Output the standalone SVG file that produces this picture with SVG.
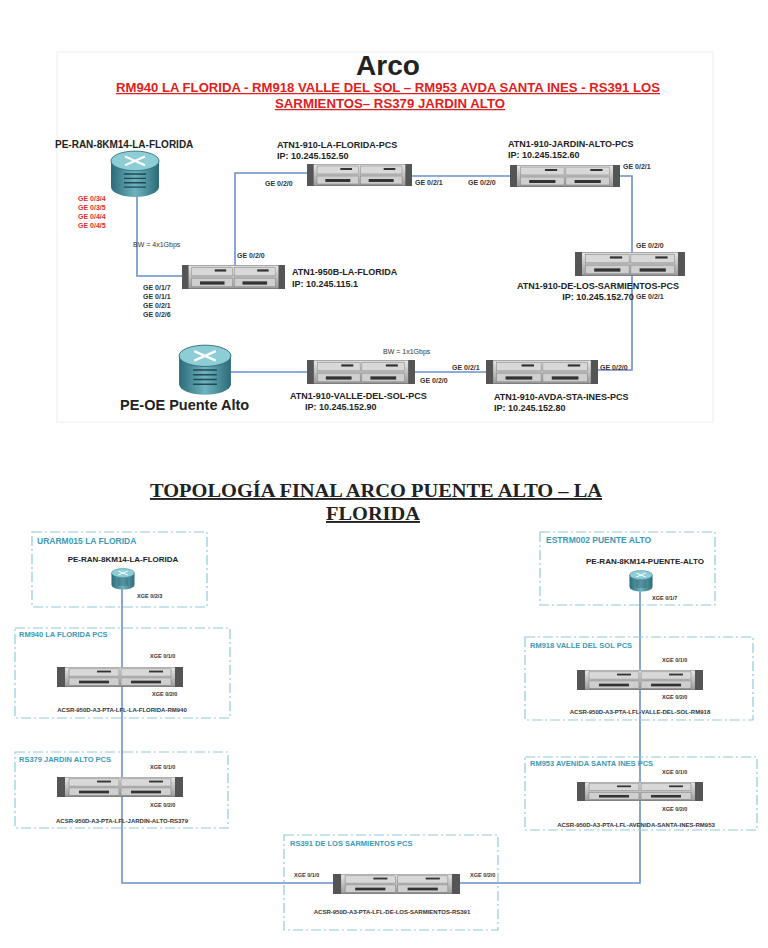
<svg xmlns="http://www.w3.org/2000/svg" width="768" height="948" viewBox="0 0 768 948">
<style>
text{font-family:"Liberation Sans",Arial,sans-serif;fill:#222}
.b{font-weight:bold}
.s{font-size:7px;font-weight:bold;fill:#333}
.n{font-size:9px;font-weight:bold}
.r{font-size:7px;font-weight:bold;fill:#e03030}
.t{font-size:7.5px;font-weight:bold;fill:#3a9ab8}
.box{fill:none;stroke:#8fcadb;stroke-width:1.2;stroke-dasharray:10 3 2 3}
.ln{fill:none;stroke:#6a8fd0;stroke-width:1.6}
</style>
<defs>
<linearGradient id="cg" x1="0" y1="0" x2="0" y2="1"><stop offset="0" stop-color="#e8e8e8"/><stop offset="1" stop-color="#9a9a9a"/></linearGradient>
<linearGradient id="rg" x1="0" y1="0" x2="1" y2="0"><stop offset="0" stop-color="#2c6a78"/><stop offset=".5" stop-color="#6fb3bf"/><stop offset="1" stop-color="#2c6a78"/></linearGradient>
<symbol id="ch" viewBox="0 0 126 22" preserveAspectRatio="none">
<rect x="0" y="0" width="126" height="22" fill="url(#cg)" stroke="#555" stroke-width=".8"/>
<rect x="0" y="0" width="8" height="22" fill="#555"/><rect x="118" y="0" width="8" height="22" fill="#555"/>
<rect x="12" y="2" width="50" height="8" fill="#d8d8d8" stroke="#777" stroke-width=".5"/>
<rect x="64" y="2" width="50" height="8" fill="#d8d8d8" stroke="#777" stroke-width=".5"/>
<rect x="12" y="12" width="50" height="8" fill="#cfcfcf" stroke="#777" stroke-width=".5"/>
<rect x="64" y="12" width="50" height="8" fill="#cfcfcf" stroke="#777" stroke-width=".5"/>
<rect x="22" y="15" width="30" height="3" fill="#333"/><rect x="74" y="15" width="30" height="3" fill="#333"/>
<rect x="40" y="4" width="14" height="2" fill="#333"/><rect x="92" y="4" width="14" height="2" fill="#333"/>
</symbol>
<symbol id="rt" viewBox="0 0 50 44" preserveAspectRatio="none">
<path d="M1 10 V34 A24 9 0 0 0 49 34 V10 Z" fill="url(#rg)"/>
<ellipse cx="25" cy="10" rx="24" ry="9" fill="#8ccdd6" stroke="#2c6a78" stroke-width=".8"/>
<path d="M15 6 L35 14 M35 6 L15 14" stroke="#fff" stroke-width="2"/>
<path d="M14 22 H36 M14 26 H36 M14 30 H36 M14 34 H36" stroke="#1f4a55" stroke-width="1.2"/>
</symbol>
</defs>
<rect width="768" height="948" fill="#fff"/>
<rect x="57" y="52" width="656" height="370" fill="#fff" stroke="#eee"/>
<text x="388" y="75" text-anchor="middle" class="b" style="font-size:28px">Arco</text>
<text x="388" y="92" text-anchor="middle" class="b" textLength="544" lengthAdjust="spacingAndGlyphs" style="font-size:12.5px;fill:#e02020;text-decoration:underline">RM940 LA FLORIDA - RM918 VALLE DEL SOL – RM953 AVDA SANTA INES - RS391 LOS</text>
<text x="390" y="108" text-anchor="middle" class="b" textLength="230" lengthAdjust="spacingAndGlyphs" style="font-size:12.5px;fill:#e02020;text-decoration:underline">SARMIENTOS– RS379 JARDIN ALTO</text>

<g id="connectors">
<path class="ln" d="M137 193 V276 H182"/>
<path class="ln" d="M235 276 V173 H307"/>
<path class="ln" d="M412 176 H510"/>
<path class="ln" d="M620 176 H632 V370 H598"/>
<path class="ln" d="M486 372 H415"/>
<path class="ln" d="M228 372 H307"/>
<path class="ln" d="M122 588 V883 H640 V590"/>
</g>

<g id="pe-ran-florida"><use href="#rt" x="110" y="150" width="50" height="48"/><text x="55" y="148" class="b" style="font-size:10px">PE-RAN-8KM14-LA-FLORIDA</text>
<text x="78" y="201" class="r">GE 0/3/4</text><text x="78" y="210" class="r">GE 0/3/5</text><text x="78" y="219" class="r">GE 0/4/4</text><text x="78" y="228" class="r">GE 0/4/5</text>
<text x="133" y="247" class="s" style="font-weight:normal">BW = 4x1Gbps</text></g>

<g id="atn950b"><use href="#ch" x="182" y="265" width="103" height="24"/>
<text x="292" y="275" class="b" style="font-size:9px">ATN1-950B-LA-FLORIDA</text><text x="292" y="287" class="b" style="font-size:9px">IP: 10.245.115.1</text>
<text x="237" y="258" class="s">GE 0/2/0</text>
<text x="143" y="290" class="s">GE 0/1/7</text><text x="143" y="299" class="s">GE 0/1/1</text><text x="143" y="308" class="s">GE 0/2/1</text><text x="143" y="317" class="s">GE 0/2/6</text></g>

<g id="atn-florida-pcs"><use href="#ch" x="307" y="164" width="105" height="22"/>
<text x="277" y="148" class="b" style="font-size:9px">ATN1-910-LA-FLORIDA-PCS</text><text x="277" y="159" class="b" style="font-size:9px">IP: 10.245.152.50</text>
<text x="265" y="186" class="s">GE 0/2/0</text><text x="415" y="185" class="s">GE 0/2/1</text></g>

<g id="atn-jardin"><use href="#ch" x="510" y="165" width="110" height="22"/>
<text x="508" y="147" class="b" style="font-size:9px">ATN1-910-JARDIN-ALTO-PCS</text><text x="508" y="158" class="b" style="font-size:9px">IP: 10.245.152.60</text>
<text x="468" y="185" class="s">GE 0/2/0</text><text x="623" y="169" class="s">GE 0/2/1</text></g>

<g id="atn-sarmientos"><use href="#ch" x="575" y="252" width="110" height="24"/>
<text x="598" y="289" text-anchor="middle" class="b" style="font-size:9px">ATN1-910-DE-LOS-SARMIENTOS-PCS</text><text x="598" y="300" text-anchor="middle" class="b" style="font-size:9px">IP: 10.245.152.70</text>
<text x="636" y="248" class="s">GE 0/2/0</text><text x="636" y="299" class="s">GE 0/2/1</text></g>

<g id="atn-avda"><use href="#ch" x="486" y="360" width="112" height="24"/>
<text x="494" y="400" class="b" style="font-size:9px">ATN1-910-AVDA-STA-INES-PCS</text><text x="494" y="411" class="b" style="font-size:9px">IP: 10.245.152.80</text>
<text x="452" y="370" class="s">GE 0/2/1</text><text x="600" y="370" class="s">GE 0/2/0</text></g>

<g id="atn-valle"><use href="#ch" x="307" y="360" width="108" height="24"/>
<text x="290" y="399" class="b" style="font-size:9px">ATN1-910-VALLE-DEL-SOL-PCS</text><text x="305" y="410" class="b" style="font-size:9px">IP: 10.245.152.90</text>
<text x="383" y="354" class="s" style="font-weight:normal">BW = 1x1Gbps</text><text x="420" y="383" class="s">GE 0/2/0</text></g>

<g id="pe-oe"><use href="#rt" x="178" y="344" width="54" height="52"/>
<text x="120" y="410" class="b" style="font-size:14.5px">PE-OE Puente Alto</text></g>

<text x="376" y="497" text-anchor="middle" class="b" textLength="452" lengthAdjust="spacingAndGlyphs" style="font-family:'Liberation Serif',serif;font-size:19px;text-decoration:underline">TOPOLOGÍA FINAL ARCO PUENTE ALTO – LA</text>
<text x="373" y="520" text-anchor="middle" class="b" textLength="94" lengthAdjust="spacingAndGlyphs" style="font-family:'Liberation Serif',serif;font-size:19px;text-decoration:underline">FLORIDA</text>

<g id="urarm015"><rect class="box" x="32" y="532" width="175" height="75"/>
<text x="37" y="544" class="t" style="font-size:8.5px">URARM015 LA FLORIDA</text>
<text x="123" y="562" text-anchor="middle" class="b" style="font-size:8px">PE-RAN-8KM14-LA-FLORIDA</text>
<use href="#rt" x="111" y="568" width="24" height="22"/><text x="137" y="598" class="s" style="font-size:5.5px">XGE 0/2/3</text></g>

<g id="rm940"><rect class="box" x="15" y="628" width="215" height="90"/>
<text x="19" y="637" class="t">RM940 LA FLORIDA PCS</text>
<use href="#ch" x="57" y="667" width="126" height="20"/>
<text x="150" y="658" class="s" style="font-size:5.5px">XGE 0/1/0</text><text x="152" y="696" class="s" style="font-size:5.5px">XGE 0/2/0</text>
<text x="122" y="712" text-anchor="middle" class="s" style="font-size:6px">ACSR-950D-A3-PTA-LFL-LA-FLORIDA-RM940</text></g>

<g id="rs379"><rect class="box" x="15" y="752" width="213" height="76"/>
<text x="19" y="762" class="t">RS379 JARDIN ALTO PCS</text>
<use href="#ch" x="57" y="777" width="126" height="20"/>
<text x="150" y="769" class="s" style="font-size:5.5px">XGE 0/1/0</text><text x="150" y="807" class="s" style="font-size:5.5px">XGE 0/2/0</text>
<text x="122" y="823" text-anchor="middle" class="s" style="font-size:6px">ACSR-950D-A3-PTA-LFL-JARDIN-ALTO-RS379</text></g>

<g id="estrm002"><rect class="box" x="540" y="532" width="175" height="73"/>
<text x="546" y="543" class="t" style="font-size:8.5px">ESTRM002 PUENTE ALTO</text>
<text x="645" y="564" text-anchor="middle" class="b" style="font-size:8px">PE-RAN-8KM14-PUENTE-ALTO</text>
<use href="#rt" x="629" y="570" width="24" height="22"/><text x="652" y="600" class="s" style="font-size:5.5px">XGE 0/1/7</text></g>

<g id="rm918"><rect class="box" x="525" y="637" width="228" height="83"/>
<text x="530" y="648" class="t">RM918 VALLE DEL SOL PCS</text>
<use href="#ch" x="577" y="670" width="126" height="20"/>
<text x="662" y="662" class="s" style="font-size:5.5px">XGE 0/1/0</text><text x="662" y="699" class="s" style="font-size:5.5px">XGE 0/2/0</text>
<text x="640" y="714" text-anchor="middle" class="s" style="font-size:6px">ACSR-950D-A3-PTA-LFL-VALLE-DEL-SOL-RM918</text></g>

<g id="rm953"><rect class="box" x="525" y="757" width="232" height="73"/>
<text x="530" y="766" class="t">RM953 AVENIDA SANTA INES PCS</text>
<use href="#ch" x="577" y="782" width="126" height="19"/>
<text x="662" y="774" class="s" style="font-size:5.5px">XGE 0/1/0</text><text x="662" y="811" class="s" style="font-size:5.5px">XGE 0/2/0</text>
<text x="636" y="827" text-anchor="middle" class="s" style="font-size:6px">ACSR-950D-A3-PTA-LFL-AVENIDA-SANTA-INES-RM953</text></g>

<g id="rs391"><rect class="box" x="284" y="835" width="214" height="95"/>
<text x="290" y="846" class="t">RS391 DE LOS SARMIENTOS PCS</text>
<use href="#ch" x="333" y="874" width="127" height="20"/>
<text x="294" y="877" class="s" style="font-size:5.5px">XGE 0/1/0</text><text x="470" y="877" class="s" style="font-size:5.5px">XGE 0/2/0</text>
<text x="392" y="914" text-anchor="middle" class="s" style="font-size:6px">ACSR-950D-A3-PTA-LFL-DE-LOS-SARMIENTOS-RS391</text></g>
</svg>
